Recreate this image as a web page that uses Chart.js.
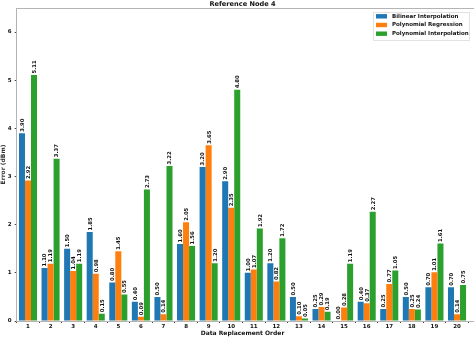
<!DOCTYPE html>
<html><head><meta charset="utf-8">
<script src="https://cdn.jsdelivr.net/npm/chart.js@4.4.1/dist/chart.umd.min.js"></script>
<style>html,body{margin:0;padding:0;background:#fff;}canvas{display:block;}</style>
</head><body>
<canvas id="c" width="474" height="351"></canvas>
<script>
const categories = ['1','2','3','4','5','6','7','8','9','10','11','12','13','14','15','16','17','18','19','20'];
const bilinear = [3.90,1.10,1.50,1.85,0.80,0.40,0.50,1.60,3.20,2.90,1.00,1.20,0.50,0.25,0.00,0.40,0.25,0.50,0.70,0.70];
const polyRegression = [2.92,1.19,1.04,0.98,1.45,0.09,0.14,2.05,3.65,2.35,1.07,0.82,0.10,0.29,0.28,0.37,0.77,0.25,1.01,0.14];
const polyInterpolation = [5.11,3.37,1.19,0.15,0.55,2.73,3.22,1.56,1.20,4.80,1.92,1.72,0.05,0.19,1.19,2.27,1.05,0.24,1.61,0.75];
const seriesNames = ['Bilinear Interpolation','Polynomial Regression','Polynomial Interpolation'];
const yTicks = [0,1,2,3,4,5,6];
const chartTitle = 'Reference Node 4';
const xTitle = 'Data Replacement Order';
const yTitle = 'Error (dBm)';
const colors = ['#1f77b4','#ff7f0e','#2ca02c'];
const FONT = "'DejaVu Sans', sans-serif";
const SPINE = '#b4b4b4';

const overlay = {
  id: 'overlay',
  afterDatasetsDraw(chart) {
    const ctx = chart.ctx;
    const area = chart.chartArea;
    // data labels
    ctx.save();
    ctx.fillStyle = '#111';
    ctx.font = 'bold 5.3px ' + FONT;
    ctx.textAlign = 'left';
    ctx.textBaseline = 'middle';
    chart.data.datasets.forEach((ds, di) => {
      const meta = chart.getDatasetMeta(di);
      meta.data.forEach((bar, i) => {
        ctx.save();
        ctx.translate(bar.x, bar.y - 1.5);
        ctx.rotate(-Math.PI / 2);
        ctx.fillText(ds.data[i].toFixed(2), 0, 0.5);
        ctx.restore();
      });
    });
    ctx.restore();
  },
  afterDraw(chart) {
    const ctx = chart.ctx;
    const area = chart.chartArea;
    const W = chart.width;
    ctx.save();
    // spines
    ctx.strokeStyle = SPINE;
    ctx.lineWidth = 1;
    ctx.beginPath();
    ctx.moveTo(area.left, Math.round(area.top) + 0.5);
    ctx.lineTo(W, Math.round(area.top) + 0.5);
    ctx.moveTo(area.left, Math.round(area.bottom) + 0.5);
    ctx.lineTo(W, Math.round(area.bottom) + 0.5);
    ctx.stroke();
    // title
    ctx.fillStyle = '#111';
    ctx.font = 'bold 6.6px ' + FONT;
    ctx.textAlign = 'center';
    ctx.textBaseline = 'middle';
    ctx.fillText(chartTitle, (area.left + area.right) / 2, 3.8);
    // legend
    const lx = 373, ly = 12, lw = 96, lh = 28;
    ctx.fillStyle = 'rgba(255,255,255,0.85)';
    ctx.fillRect(lx, ly, lw, lh);
    ctx.strokeStyle = '#e2e2e2';
    ctx.strokeRect(lx + 0.5, ly + 0.5, lw, lh);
    ctx.font = 'bold 5.5px ' + FONT;
    ctx.textAlign = 'left';
    chart.data.datasets.forEach((ds, i) => {
      const cy = 16.3 + i * 8.7;
      ctx.fillStyle = ds.backgroundColor;
      ctx.fillRect(376, cy - 2.2, 11, 4.4);
      ctx.fillStyle = '#111';
      ctx.fillText(ds.label, 392, cy);
    });
    ctx.restore();
  }
};

new Chart(document.getElementById('c'), {
  type: 'bar',
  data: {
    labels: categories,
    datasets: [
      { label: seriesNames[0], data: bilinear, backgroundColor: colors[0] },
      { label: seriesNames[1], data: polyRegression, backgroundColor: colors[1] },
      { label: seriesNames[2], data: polyInterpolation, backgroundColor: colors[2] }
    ]
  },
  options: {
    responsive: false,
    animation: false,
    layout: { padding: { top: 8, right: 5.7, bottom: 14, left: 0 } },
    datasets: { bar: { categoryPercentage: 0.8, barPercentage: 1.0, borderWidth: 0 } },
    plugins: { legend: { display: false }, title: { display: false }, tooltip: { enabled: false } },
    scales: {
      x: {
        grid: { display: true, drawOnChartArea: false, drawTicks: true, tickLength: 2, color: '#444' },
        border: { display: false },
        ticks: { color: '#111', font: { family: FONT, size: 5.5, weight: 'bold' }, padding: 0, maxRotation: 0, autoSkip: false },
        title: { display: true, text: xTitle, color: '#111', font: { family: FONT, size: 6, weight: 'bold' }, padding: 0 },
        afterFit(s) { s.height = 16; }
      },
      y: {
        min: 0, max: 6.5,
        grid: { display: true, drawOnChartArea: false, drawTicks: true, tickLength: 2, color: '#444' },
        border: { display: true, color: SPINE },
        ticks: { stepSize: 1, color: '#111', font: { family: FONT, size: 5.5, weight: 'bold' }, padding: 3,
                 callback: v => (yTicks.includes(v) ? String(v) : '') },
        afterBuildTicks(s) { s.ticks = yTicks.map(v => ({ value: v })); },
        title: { display: true, text: yTitle, color: '#333', font: { family: FONT, size: 6, weight: 'bold' }, padding: 0 },
        afterFit(s) { s.width = 16.7; }
      }
    }
  },
  plugins: [overlay]
});
</script>
</body></html>
